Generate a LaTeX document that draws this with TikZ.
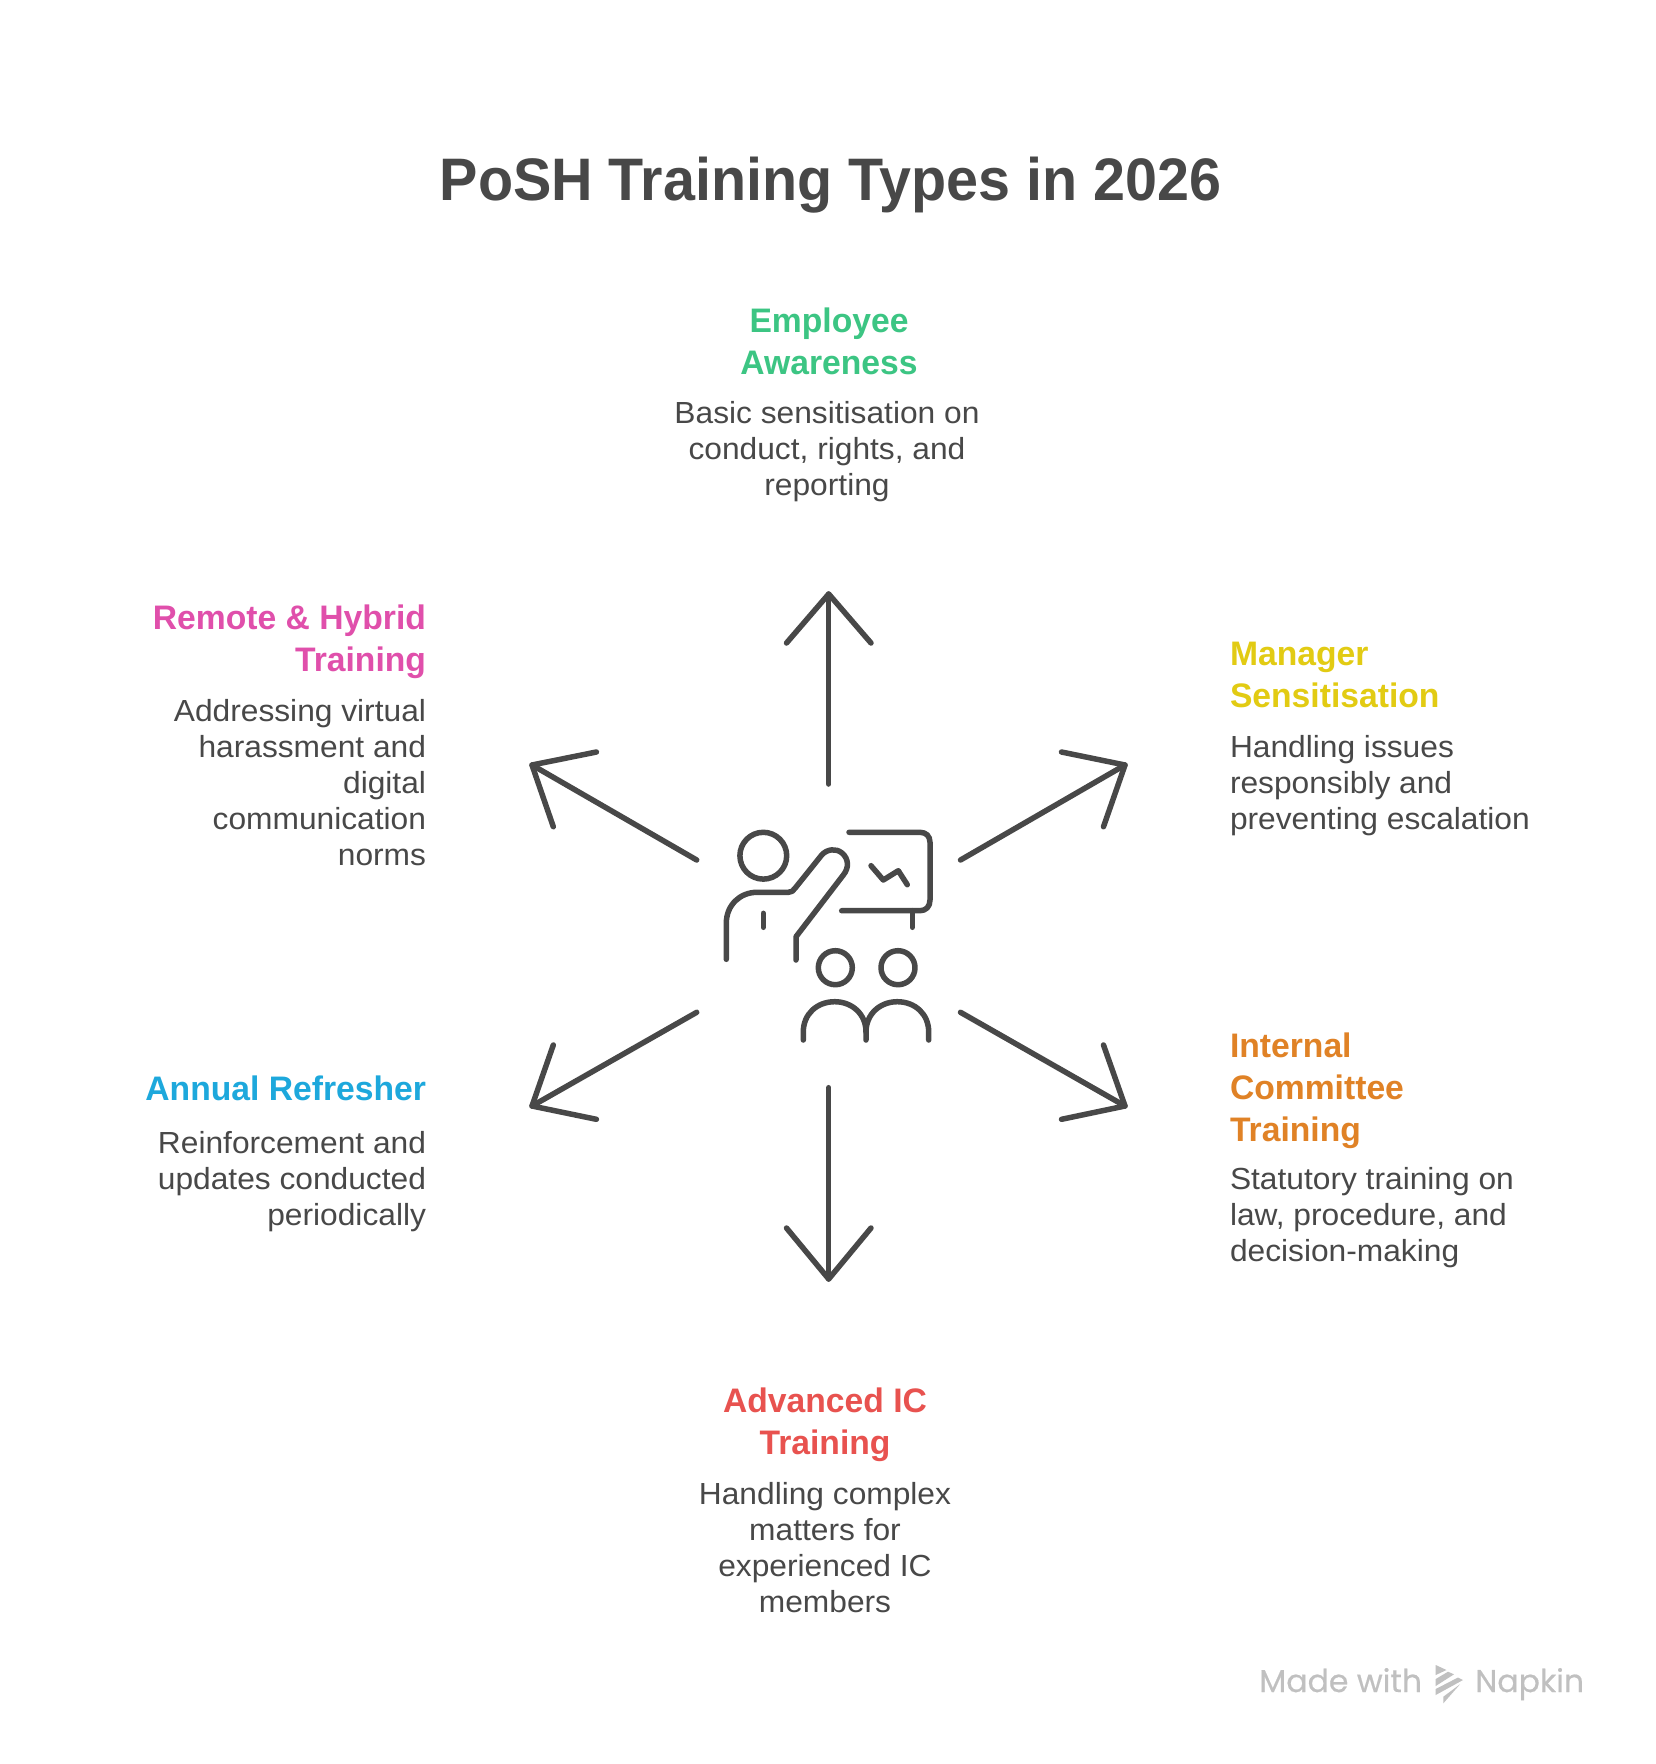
\documentclass[tikz,border=0pt]{standalone}
\usepackage{fontspec}
\setmainfont{Liberation Sans}
\newfontfamily\titlefont[FakeStretch=0.958]{Liberation Sans Bold}
\newfontfamily\headfont[FakeStretch=0.99]{Liberation Sans Bold}
\newfontfamily\bodyfont[FakeStretch=1.04]{Liberation Sans}
\newfontfamily\footfont[FakeBold=0.4]{Poppins}
\definecolor{ink}{HTML}{484848}
\definecolor{cgreen}{HTML}{3CC583}
\definecolor{cyellow}{HTML}{E2CB13}
\definecolor{corange}{HTML}{E08226}
\definecolor{cred}{HTML}{E8524F}
\definecolor{cblue}{HTML}{1DA8DC}
\definecolor{cpink}{HTML}{E04FAB}
\definecolor{cfoot}{HTML}{C0C0C0}
\tikzset{
  x=1pt,y=-1pt,
  txt/.style={inner sep=0pt,outer sep=0pt,text=ink},
  head/.style={txt,font=\headfont\fontsize{34}{42}\selectfont},
  body/.style={txt,font=\bodyfont\fontsize{30.5}{36}\selectfont},
  ic/.style={draw=ink,line width=5.5pt,line cap=round,line join=round},
  arr/.style={draw=ink,line width=5.5pt,line cap=round,line join=round},
  foot/.style={anchor=base west,inner sep=0pt,text=cfoot,font=\footfont\fontsize{31.5}{36}\selectfont},
}
\begin{document}
\begin{tikzpicture}
\useasboundingbox (0,0) rectangle (1656,1764);
\fill[white] (0,0) rectangle (1656,1764);
\node[txt,anchor=base,font=\titlefont\fontsize{60}{72}\selectfont] (title) at (830.5,200) {PoSH Training Types in 2026};
% Employee
\node[head,text=cgreen,align=center,anchor=base] (h1) at (829,374) {Employee\\Awareness};
\node[body,align=center,anchor=base] (d1) at (827,495) {Basic sensitisation on\\conduct, rights, and\\reporting};
% Manager
\node[head,text=cyellow,align=left,anchor=base west] (h2) at (1230,707) {Manager\\Sensitisation};
\node[body,align=left,anchor=base west] (d2) at (1230,829) {Handling issues\\responsibly and\\preventing escalation};
% Internal
\node[head,text=corange,align=left,anchor=base west] (h3) at (1230,1141.5) {Internal\\Committee\\Training};
\node[body,align=left,anchor=base west] (d3) at (1230,1261) {Statutory training on\\law, procedure, and\\decision-making};
% Advanced
\node[head,text=cred,align=center,anchor=base] (h4) at (825,1454.5) {Advanced IC\\Training};
\node[body,align=center,anchor=base] (d4) at (825,1612) {Handling complex\\matters for\\experienced IC\\members};
% Annual
\node[head,text=cblue,align=right,anchor=base east] (h5) at (426,1100) {Annual Refresher};
\node[body,align=right,anchor=base east] (d5) at (426,1225) {Reinforcement and\\updates conducted\\periodically};
% Remote
\node[head,text=cpink,align=right,anchor=base east] (h6) at (426,671) {Remote \& Hybrid\\Training};
\node[body,align=right,anchor=base east] (d6) at (426,865) {Addressing virtual\\harassment and\\digital\\communication\\norms};
% arrows
\foreach \n/\ta/\tb/\tipx/\tipy/\ax/\ay/\bx/\by in {
 a/828.7/784/828.7/594/786.5/643/871/643,
 b/960.5/860/1125/765/1061.5/752/1103.5/826.7,
 e/960.5/1012.3/1125/1106/1103.5/1045/1061.5/1119.3,
 d/828.7/1087.7/828.7/1279/786.5/1228/871/1228,
 g/696.7/1012.3/532/1106/553.3/1045/596.4/1119.3,
 f/696.7/860/532/765/596.4/752/553.3/826.7}{
  \coordinate (\n tail) at (\ta,\tb);
  \coordinate (\n tip) at (\tipx,\tipy);
  \coordinate (\n p) at (\ax,\ay);
  \coordinate (\n q) at (\bx,\by);
  \draw[arr] (\n tail) -- (\n tip);
  \draw[arr] (\n p) -- (\n tip) -- (\n q);
}
% icon
\draw[ic] (763.3,855.7) circle (23.4);
\draw[ic] (726.3,959.3) -- (726.3,923.3) .. controls (726.3,905) and (740,892.3) .. (757,892.3)
  -- (788.3,892.3) .. controls (791,892.3) and (793.5,891) .. (795,888.3)
  -- (821.7,855) .. controls (827,849) and (836,848) .. (842,853)
  .. controls (849,859) and (849,868) .. (843.3,875)
  -- (796,936.7) -- (796,960);
\draw[ic] (763.3,913.3) -- (763.3,927.3);
\draw[ic] (849,832.3) -- (920,832.3) .. controls (926,832.3) and (930,836) .. (930,842.3)
  -- (930,900) .. controls (930,906.5) and (926,910.7) .. (920,910.7) -- (841.7,910.7);
\draw[ic] (912.3,910.7) -- (912.3,927.3);
\draw[ic] (871,865.7) -- (883.3,880) -- (898.3,870.7) -- (907.3,884.7);
\draw[ic] (835.3,967.7) circle (17);
\draw[ic] (898,967.7) circle (17);
\draw[ic] (803.3,1040) -- (803.3,1032) .. controls (803.3,1014) and (817,1001.7) .. (834.7,1001.7)
  .. controls (852,1001.7) and (866,1014) .. (866,1032) -- (866,1040);
\draw[ic] (866,1032) .. controls (866,1014) and (880,1001.7) .. (897.3,1001.7)
  .. controls (915,1001.7) and (928.7,1014) .. (928.7,1032) -- (928.7,1040);
% footer
\node[foot] (made) at (1259,1692) {Made with};
\node[foot] (napkin) at (1475,1692) {Napkin};
\fill[cfoot] (1435.7,1665) -- (1446.5,1670) -- (1435.7,1675) -- cycle;
\fill[cfoot] (1435.7,1679) -- (1448,1671.7) -- (1454,1674.3) -- (1435.7,1686) -- cycle;
\fill[cfoot] (1435.7,1689) -- (1458,1677.5) -- (1463,1680) -- (1435.7,1695) -- cycle;
\fill[cfoot] (1443.3,1703.3) -- (1443.3,1696.7) -- (1460,1684.3) -- cycle;
\end{tikzpicture}
\end{document}
